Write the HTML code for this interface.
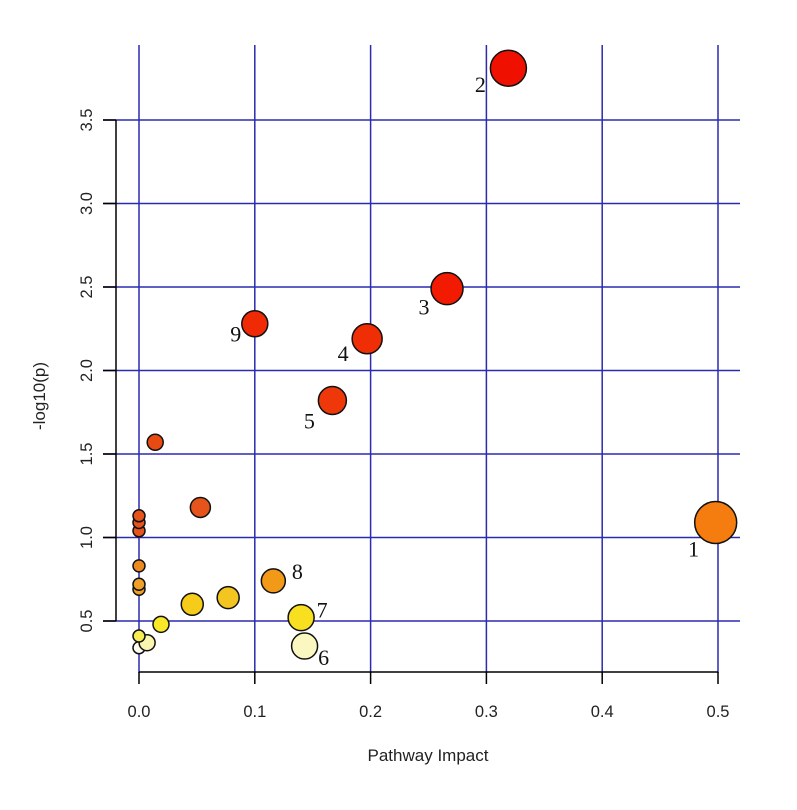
<!DOCTYPE html>
<html><head><meta charset="utf-8"><style>body{margin:0;background:#fff}svg{display:block}</style></head>
<body>
<svg id="chart" width="797" height="810" xmlns="http://www.w3.org/2000/svg"></svg>
<script>
const impact=[0.498,0.319,0.266,0.197,0.167,0.143,0.140,0.116,0.100,0.014,0.053,0,0,0,0,0,0,0.077,0.046,0.019,0,0.007,0];
const logp=[1.09,3.81,2.49,2.19,1.82,0.35,0.52,0.74,2.28,1.57,1.18,1.13,1.09,1.04,0.83,0.72,0.69,0.64,0.60,0.48,0.41,0.37,0.34];
const radii=[21,18,16,15,14,13,13,12,13,8,10,6,6,6,6,6,6,11,11,8,6,8,6];
const colors=['#f57d0f','#f01000','#f21a00','#ef2e05','#ee380a','#fbf7c0','#f8e020','#f29a18','#f02a05','#e84a12','#e5541a','#e5541a','#e5541a','#e5541a','#ec8a20','#eea028','#eea028','#f3c520','#f5cc1a','#f8e828','#f6ee50','#faf6b0','#fffdf0'];
const labels=['1','2','3','4','5','6','7','8','9','','','','','','','','','','','','','',''];
const labelOffsets=[[-22,34],[-28,24],[-23,26],[-24,22],[-23,28],[19,19],[21,0],[24,-2],[-19,18]];
const xTicks=[0,0.1,0.2,0.3,0.4,0.5];
const xTickLabels=['0.0','0.1','0.2','0.3','0.4','0.5'];
const yTicks=[0.5,1,1.5,2,2.5,3,3.5];
const yTickLabels=['0.5','1.0','1.5','2.0','2.5','3.0','3.5'];
const X=v=>139+v*1158, Y=v=>621-(v-0.5)*167;
const svg=document.getElementById('chart');const NS='http://www.w3.org/2000/svg';
function mk(t,a,p){const e=document.createElementNS(NS,t);for(const k in a)e.setAttribute(k,a[k]);(p||svg).appendChild(e);return e;}
const grid=mk('g',{});


xTicks.forEach(v=>mk('line',{x1:X(v),x2:X(v),y1:45,y2:673,stroke:'#2b2bb0','stroke-width':1.5},grid));
yTicks.forEach(v=>mk('line',{x1:103,x2:740,y1:Y(v),y2:Y(v),stroke:'#2b2bb0','stroke-width':1.5},grid));
const xa=mk('g',{stroke:'#000','stroke-width':1.5});


mk('line',{x1:X(0),x2:X(0.5),y1:672,y2:672},xa);
xTicks.forEach((v,i)=>{mk('line',{x1:X(v),x2:X(v),y1:672,y2:684},xa);
const t=mk('text',{x:X(v),y:717,'text-anchor':'middle','font-family':'Liberation Sans, sans-serif','font-size':16.5,fill:'#222',stroke:'none'});t.textContent=xTickLabels[i];

});
const ya=mk('g',{stroke:'#000','stroke-width':1.5});


mk('line',{x1:116,x2:116,y1:Y(3.5),y2:Y(0.5)},ya);
yTicks.forEach((v,i)=>{mk('line',{x1:103,x2:116,y1:Y(v),y2:Y(v)},ya);
const t=mk('text',{x:0,y:0,transform:`translate(92,${Y(v)}) rotate(-90)`,'text-anchor':'middle','font-family':'Liberation Sans, sans-serif','font-size':16.5,fill:'#222',stroke:'none'});t.textContent=yTickLabels[i];

});
const xt=mk('text',{x:428,y:761,'text-anchor':'middle','font-family':'Liberation Sans, sans-serif','font-size':17,fill:'#222'});xt.textContent='Pathway Impact';


const yt=mk('text',{transform:'translate(45,396) rotate(-90)','text-anchor':'middle','font-family':'Liberation Sans, sans-serif','font-size':17,fill:'#222'});yt.textContent='-log10(p)';


const pts=mk('g',{});


for(let i=impact.length-1;i>=0;i--){
const c=mk('circle',{cx:X(impact[i]),cy:Y(logp[i]),r:radii[i],fill:colors[i],stroke:'#111','stroke-width':1.5},pts);


if(labels[i]){const o=labelOffsets[i];const t=mk('text',{x:X(impact[i])+o[0],y:Y(logp[i])+o[1],'font-family':'Liberation Serif, serif','font-size':22,fill:'#111','text-anchor':'middle'},pts);t.textContent=labels[i];

}}
</script>
</body></html>
